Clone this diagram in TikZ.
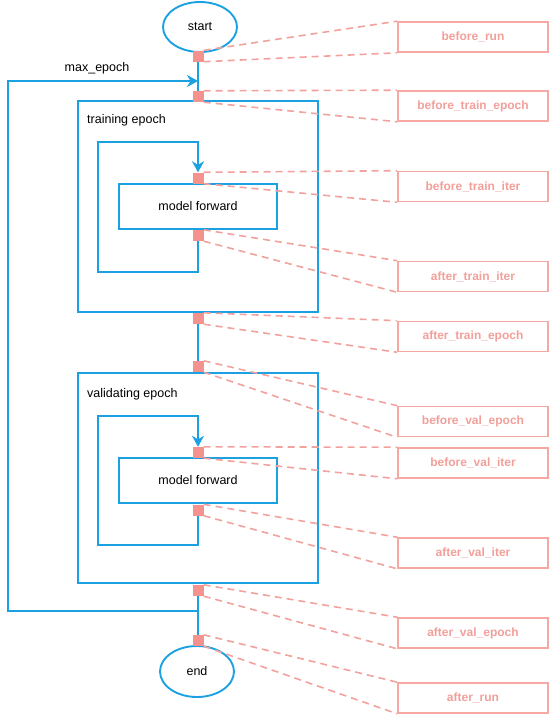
\documentclass[tikz,border=0pt]{standalone}
\usepackage{fontspec}
\setmainfont{Liberation Sans}
\usetikzlibrary{arrows.meta,shapes.geometric}
\definecolor{flowblue}{HTML}{1BA1E2}
\definecolor{hookfill}{HTML}{F4928D}
\definecolor{hookline}{HTML}{F2A29D}
\definecolor{hookbox}{HTML}{F5A8A4}
\definecolor{hooktext}{HTML}{F29F9A}
\tikzset{
  flow/.style={draw=flowblue, line width=1.9pt},
  flowtip/.style={-{Stealth[length=11pt,width=12pt,inset=3.5pt]}},
  blackfont/.style={font=\fontsize{12.5}{14}\selectfont, text=black},
  outerbox/.style={flow, rectangle, inner sep=0pt},
  termbox/.style={flow, ellipse, minimum width=74pt, minimum height=50pt, inner sep=0pt, blackfont},
  hooksq/.style={rectangle, fill=hookfill, minimum size=11pt, inner sep=0pt},
  hookline/.style={draw=hookline, line width=1.6pt, dash pattern=on 7pt off 5pt},
  hookname/.style={rectangle, draw=hookbox, line width=1.6pt, minimum width=150pt, minimum height=30pt, inner sep=0pt,
    font=\fontsize{12}{14}\selectfont\bfseries, text=hooktext},
  lbl/.style={blackfont, anchor=west, inner sep=0pt}
}
\begin{document}
\begin{tikzpicture}[x=1pt,y=-1pt]
\useasboundingbox (0,0) rectangle (549,715);

% terminals
\node[termbox] (start) at (200,27) {start};
\node[termbox, minimum height=51pt] (end) at (197,671.5) {end};

% epoch boxes
\node[outerbox, minimum width=240pt, minimum height=211pt] (train) at (198,206.5) {};
\node[outerbox, minimum width=240pt, minimum height=210pt] (val) at (198,478) {};
\node[lbl] (trainlbl) at (87,120) {training epoch};
\node[lbl] (vallbl) at (87,394) {validating epoch};
\node[blackfont] (maxep) at (97,68) {max\_epoch};

% model forward boxes
\node[outerbox, blackfont, minimum width=158pt, minimum height=45pt] (mf1) at (198,206.5) {model forward};
\node[outerbox, blackfont, minimum width=158pt, minimum height=45pt] (mf2) at (198,480.5) {model forward};

% hook squares
\node[hooksq] (s1) at (198,56) {};
\node[hooksq] (s2) at (198,96.5) {};
\node[hooksq] (s3) at (198,178) {};
\node[hooksq] (s4) at (198,235.5) {};
\node[hooksq] (s5) at (198,318.5) {};
\node[hooksq] (s6) at (198,366.5) {};
\node[hooksq] (s7) at (198,452.5) {};
\node[hooksq] (s8) at (198,510) {};
\node[hooksq] (s9) at (198,590.5) {};
\node[hooksq] (s10) at (198,640.5) {};

% hook names
\node[hookname] (h1) at (473,37) {before\_run};
\node[hookname] (h2) at (473,106) {before\_train\_epoch};
\node[hookname] (h3) at (473,186.5) {before\_train\_iter};
\node[hookname] (h4) at (473,276.5) {after\_train\_iter};
\node[hookname] (h5) at (473,336.5) {after\_train\_epoch};
\node[hookname] (h6) at (473,421.5) {before\_val\_epoch};
\node[hookname] (h7) at (473,463) {before\_val\_iter};
\node[hookname] (h8) at (473,553) {after\_val\_iter};
\node[hookname] (h9) at (473,633) {after\_val\_epoch};
\node[hookname] (h10) at (473,698) {after\_run};

% coordinates for loops
\coordinate (j1) at (198,81);
\coordinate (j2) at (198,611);
\coordinate (lt) at (8,81);
\coordinate (lb) at (8,611);
\coordinate (it1) at (98,142);
\coordinate (ib1) at (98,272);
\coordinate (it2) at (98,416);
\coordinate (ib2) at (98,545);

% main spine
\draw[flow] (s1.south) -- (s2.north);
\draw[flow] (s5.south) -- (s6.north);
\draw[flow] (s9.south) -- (s10.north);

% epoch loop
\draw[flow, flowtip] (j2) -- (lb) -- (lt) -- (j1);

% iteration loops
\draw[flow, flowtip] (s4.south) -- (s4.south |- ib1) -- (ib1) -- (it1) -- (it1 -| s3) -- (s3.north);
\draw[flow, flowtip] (s8.south) -- (s8.south |- ib2) -- (ib2) -- (it2) -- (it2 -| s7) -- (s7.north);

% hook connectors
\foreach \s/\h in {s1/h1,s2/h2,s3/h3,s4/h4,s5/h5,s6/h6,s7/h7,s8/h8,s9/h9,s10/h10}{
  \draw[hookline] (\s.north east) -- (\h.north west);
  \draw[hookline] (\s.south east) -- (\h.south west);
}
\end{tikzpicture}
\end{document}
